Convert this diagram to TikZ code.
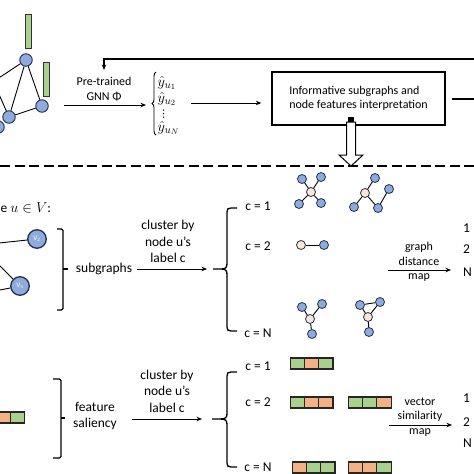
\documentclass[tikz,border=0pt]{standalone}
\usepackage{fontspec}
\setmainfont{Carlito}
\usetikzlibrary{arrows.meta,decorations.pathreplacing}
\definecolor{nblue}{HTML}{8FAADC}
\definecolor{nline}{HTML}{1F3050}
\definecolor{beige}{HTML}{FBE5D6}
\definecolor{fgreen}{HTML}{A9D18E}
\definecolor{forange}{HTML}{F4B183}
\begin{document}
\begin{tikzpicture}[x=1pt,y=-1pt,
  gn/.style={circle,draw=nline,fill=nblue,line width=0.9pt,inner sep=0pt,minimum size=12.5pt},
  vn/.style={gn,minimum size=18.5pt,line width=1.3pt,font=\fontsize{7}{8}\selectfont\color{white}},
  sn/.style={circle,draw=nline,fill=nblue,line width=0.8pt,inner sep=0pt,minimum size=9pt},
  sc/.style={sn,fill=beige},
  edg/.style={line width=0.9pt},
  arr/.style={line width=1pt,-{Stealth[length=5.5pt,width=4.5pt]}},
  gbar/.style={rectangle,draw=black!80,fill=fgreen,line width=0.9pt,inner sep=0pt,minimum width=6pt,minimum height=34pt},
  cell/.style={rectangle,draw=black!85,line width=1.1pt,inner sep=0pt,minimum width=14.3pt,minimum height=11pt},
  gc/.style={cell,fill=fgreen},
  oc/.style={cell,fill=forange},
  lbl/.style={font=\fontsize{13.5}{16.5}\selectfont,align=center,inner sep=0pt},
  sml/.style={font=\fontsize{12}{14.5}\selectfont,align=center,inner sep=0pt},
  yh/.style={anchor=west,inner sep=0pt,font=\fontsize{15.5}{16}\selectfont},
  brk/.style={line width=1.3pt,rounded corners=1.5pt},
  brc/.style={line width=1.3pt}]
\useasboundingbox (0,0) rectangle (474,474);
\clip (0,0) rectangle (474,474);

% ---------- top-left graph ----------
\node[gbar] (bar1) at (28,31) {};
\node[gbar] (bar2) at (46,79.5) {};
\node[gn] (A) at (26,60) {};
\node[gn] (B) at (42,106) {};
\node[gn] (C) at (9,117) {};
\node[gn] (D) at (-2,127) {};
\coordinate (pA) at (-30,97);
\coordinate (pC) at (-6,83);
\draw[edg] (A) -- (B);
\draw[edg] (A) -- (C);
\draw[edg] (B) -- (C);
\draw[edg] (A) -- (pA);
\draw[edg] (C) -- (pC);

% ---------- GNN arrow ----------
\coordinate (g1) at (64,105);
\coordinate (g2) at (146,105);
\draw[arr] (g1) -- (g2);
\node[sml,font=\fontsize{12}{15}\selectfont] (gnnlbl) at (104,89.5) {Pre-trained\\GNN Φ};

% ---------- predictions ----------
\coordinate (brT) at (156,72);
\coordinate (brB) at (156,135);
\draw[brc,line width=0.9pt,decorate,decoration={brace,amplitude=4pt}] (brB) -- (brT);
\node[yh] (y1) at (157.5,83) {$\hat{y}_{u_1}$};
\node[yh] (y2) at (157.5,99) {$\hat{y}_{u_2}$};
\node[yh] (yN) at (157.5,128) {$\hat{y}_{u_N}$};
\foreach \d in {110,113.5,117} \fill (163.5,\d) circle (0.75pt);

\node[draw,line width=1.3pt,minimum width=173pt,minimum height=53pt,align=left,
      font=\fontsize{12}{13.5}\selectfont] (box) at (358.5,98.5)
      {Informative subgraphs and\\node features interpretation};
\coordinate (p1) at (191,103);
\draw[arr,shorten >=10pt] (p1) -- (p1 -| box.west);

% right line & feedback
\coordinate (bxr) at (452,99);
\coordinate (bxo) at (480,99);
\draw[line width=1.3pt] (bxr) -- (bxo);
\coordinate (fbR) at (480,59);
\coordinate (fbL) at (104,59);
\coordinate (fbT) at (104,70);
\draw[arr,line width=1.3pt] (fbR) -- (fbL) -- (fbT);

% ---------- dashed separator ----------
\coordinate (dL) at (0,166);
\coordinate (dR) at (474,166);
\draw[line width=1.3pt,dash pattern=on 10pt off 4.5pt] (dL) -- (dR);

% hollow arrow
\fill[black] (348,117) rectangle (354,122);
\draw[line width=1pt,fill=white,line join=miter] (346.5,122) -- (346.5,155) -- (339,155) -- (351,166) -- (363,155) -- (355.5,155) -- (355.5,122) -- cycle;

% ---------- middle section ----------
\node[anchor=west,inner sep=0pt,font=\fontsize{13.5}{16}\selectfont] (forall) at (0.5,208) {e $u\in V$:};
\node[vn] (V2) at (37,239) {V\textsubscript{2}};
\node[vn] (V4) at (20,286) {V\textsubscript{4}};
\coordinate (q1) at (-20,245);
\coordinate (q2) at (-10,256);
\coordinate (q3) at (-20,294);
\draw[edg] (q1) -- (V2);
\draw[edg] (q2) -- (V4);
\draw[edg] (q3) -- (V4);

\draw[brk] (57,229) -- (63,229) -- (63,310) -- (57,310);
\draw[brc] (63,269) -- (68,269);
\node[lbl] (sub) at (104,269) {subgraphs};
\coordinate (s1) at (137,269);
\coordinate (s2) at (207,269);
\draw[arr] (s1) -- (s2);
\node[lbl] (cl1) at (168,241.5) {cluster by\\node u’s\\label c};

\draw[brc] (237,208) -- (231,208) .. controls (228,208) and (227,209) .. (227,212) -- (227,263)
  .. controls (227,267.5) and (226,269) .. (221,269) -- (213,269)
  -- (221,269) .. controls (226,269) and (227,270.5) .. (227,275) -- (227,327)
  .. controls (227,330) and (228,331) .. (231,331) -- (237,331);

\node[lbl] (c11) at (258,206) {c = 1};
\node[lbl] (c12) at (258,246) {c = 2};
\node[lbl] (c1N) at (258,333) {c = N};

% c=1 graphs
\node[sc] (a0) at (311,192) {};
\node[sn] (a1) at (302,179) {};
\node[sn] (a2) at (321,177) {};
\node[sn] (a3) at (299,204) {};
\node[sn] (a4) at (321,203) {};
\foreach \n in {a1,a2,a3,a4} \draw[edg] (a0) -- (\n);
\node[sc] (b0) at (365,193) {};
\node[sn] (b1) at (375,178) {};
\node[sn] (b2) at (389,189) {};
\node[sn] (b3) at (378,208) {};
\node[sn] (b4) at (354,207) {};
\draw[edg] (b0) -- (b1);
\draw[edg] (b0) -- (b4);
\draw[edg] (b0) -- (b3);
\draw[edg] (b3) -- (b2);
% c=2 graph
\node[sc] (e0) at (301,245) {};
\node[sn] (e1) at (324,245) {};
\draw[edg] (e0) -- (e1);
% c=N graphs
\node[sc] (m0) at (310,319) {};
\node[sn] (m1) at (302,307) {};
\node[sn] (m2) at (322,304) {};
\node[sn] (m3) at (312,334) {};
\foreach \n in {m1,m2,m3} \draw[edg] (m0) -- (\n);
\node[sc] (k0) at (368,317) {};
\node[sn] (k1) at (360,305) {};
\node[sn] (k2) at (380,302) {};
\node[sn] (k3) at (369,332) {};
\draw[edg] (k1) -- (k2);
\draw[edg] (k1) -- (k0);
\draw[edg] (k2) -- (k0);
\draw[edg] (k0) -- (k3);

\coordinate (gd1) at (388,270);
\coordinate (gd2) at (451,270);
\draw[arr] (gd1) -- (gd2);
\node[sml] (gdl) at (419,254) {graph\\distance};
\node[sml] (gdm) at (419,277.5) {map};
\node[lbl,anchor=west] (r1) at (463,228) {1};
\node[lbl,anchor=west] (r2) at (463,249) {2};
\node[lbl,anchor=west] (rN) at (463,272) {N};

% ---------- bottom section ----------
\node[oc] (fo) at (3,417.5) {};
\node[gc] (fg) at (17.3,417.5) {};
\draw[brk] (53,379) -- (61,379) -- (61,458) -- (53,458);
\draw[brc] (61,418) -- (65,418);
\node[lbl] (fs) at (95,416) {feature\\saliency};
\coordinate (t1) at (132,419);
\coordinate (t2) at (202,419);
\draw[arr] (t1) -- (t2);
\node[lbl] (cl2) at (167,391) {cluster by\\node u’s\\label c};

\draw[brc] (237,372) -- (231,372) .. controls (228,372) and (227,373) .. (227,376) -- (227,413)
  .. controls (227,417.5) and (226,419) .. (220,419) -- (212,419)
  -- (220,419) .. controls (226,419) and (227,420.5) .. (227,425) -- (227,463)
  .. controls (227,466) and (228,467) .. (231,467) -- (237,467);

\node[lbl] (c21) at (258,366) {c = 1};
\node[lbl] (c22) at (258,402) {c = 2};
\node[lbl] (c2N) at (258,467) {c = N};

% feature vectors
\node[gc] (v11) at (297.2,363.5) {};
\node[oc] (v12) at (311.5,363.5) {};
\node[gc] (v13) at (325.8,363.5) {};

\node[gc] (w11) at (297.2,402.5) {};
\node[oc] (w12) at (311.5,402.5) {};
\node[oc] (w13) at (325.8,402.5) {};
\node[gc] (w21) at (355.3,402.5) {};
\node[gc] (w22) at (369.6,402.5) {};
\node[oc] (w23) at (383.9,402.5) {};

\node[oc] (z11) at (299.2,467.5) {};
\node[gc] (z12) at (313.5,467.5) {};
\node[gc] (z13) at (327.8,467.5) {};
\node[oc] (z21) at (355.3,467.5) {};
\node[oc] (z22) at (369.6,467.5) {};
\node[gc] (z23) at (383.9,467.5) {};

\coordinate (vs1) at (389,425);
\coordinate (vs2) at (452,425);
\draw[arr] (vs1) -- (vs2);
\node[sml] (vsl) at (420,409.5) {vector\\similarity};
\node[sml] (vsm) at (420,432.5) {map};
\node[lbl,anchor=west] (u1) at (463,398) {1};
\node[lbl,anchor=west] (u2) at (463,422) {2};
\node[lbl,anchor=west] (uN) at (463,443) {N};
\end{tikzpicture}
\end{document}
